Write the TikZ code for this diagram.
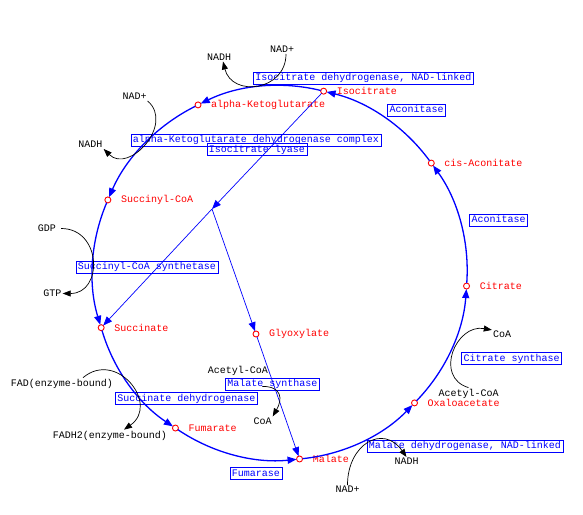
\documentclass[tikz,border=0pt]{standalone}
\usepackage{fontspec}
\setmonofont{Liberation Mono}
\usepackage{tikz}
\usetikzlibrary{arrows.meta,calc,positioning}

\begin{document}
\begin{tikzpicture}[x=1pt, y=1pt, font=\ttfamily\fontsize{10}{12}\selectfont]
    \def\R{187} % Radius of the cycle
    \useasboundingbox (0,0) rectangle (583,-514);

    % Style for nodes and lines
    \tikzset{
        metnode/.style={circle, draw=red, line width=0.9pt, minimum size=6pt, inner sep=0pt, outer sep=0pt},
        metname/.style={text=red, inner sep=0pt},
        enzbox/.style={draw=blue, text=blue, line width=0.8pt, inner xsep=2pt, inner ysep=1.5pt, text height=7pt, text depth=2pt},
        cofname/.style={text=black, inner sep=1pt},
        cycleline/.style={blue, line width=1.3pt, -{Triangle[length=9pt, width=7pt]}},
        shuntline/.style={blue, line width=0.7pt, -{Triangle[length=9pt, width=7pt]}},
        cofline/.style={black, line width=0.7pt, -{Triangle[length=8pt, width=6pt]}}
    }

    \coordinate (C) at (280,-273);

    % --- METABOLITES ---
    % one every 40 degrees round the cycle
    \foreach \n/\a/\lbl in {cit/-4/Citrate, cis/36/cis-Aconitate, iso/76.5/Isocitrate,
                            akg/116/alpha-Ketoglutarate, scoa/157/Succinyl-CoA, suc/197/Succinate,
                            fum/236/Fumarate, mal/276/Malate, oaa/316/Oxaloacetate} {
        \node[metnode] (\n) at ($(C)+(\a:\R)$) {};
        \node[metname, right=10pt of \n] (l\n) {\lbl};
    }
    \node[metnode] (gly) at (256,-334) {};
    \node[metname, right=10pt of gly] (lgly) {Glyoxylate};
    \coordinate (br) at (212,-209);

    % --- CYCLE ---
    \foreach \s/\e in {oaa/cit, cit/cis, cis/iso, iso/akg, akg/scoa, scoa/suc, suc/fum, fum/mal, mal/oaa}
        \draw[cycleline] (\s) to[bend right=20, looseness=0.88] (\e);

    % --- GLYOXYLATE SHUNT ---
    \draw[shuntline] (iso) -- (br);
    \draw[shuntline] (br) -- (suc);
    \draw[shuntline] (br) -- (gly);
    \draw[shuntline] (gly) -- (mal);

    % --- ENZYMES ---
    \node[enzbox] (icdh) at (363.5,-78) {Isocitrate dehydrogenase, NAD-linked};
    \node[enzbox] (acoA) at (416.5,-110) {Aconitase};
    \node[enzbox] (akgdh) at (256,-140) {alpha-Ketoglutarate dehydrogenase complex};
    \node[enzbox] (icl) at (257,-149.5) {Isocitrate lyase};
    \node[enzbox] (acoB) at (498.5,-220) {Aconitase};
    \node[enzbox] (scs) at (147,-267) {Succinyl-CoA synthetase};
    \node[enzbox] (cs) at (511.5,-358.5) {Citrate synthase};
    \node[enzbox] (ms) at (272.5,-384) {Malate synthase};
    \node[enzbox] (sdh) at (186.5,-398.5) {Succinate dehydrogenase};
    \node[enzbox] (fumase) at (256,-473.5) {Fumarase};
    \node[enzbox] (mdh) at (465,-446) {Malate dehydrogenase, NAD-linked};

    % --- COFACTORS ---
    \node[cofname] (nadI) at (282,-49.5) {NAD+};
    \node[cofname] (nadhI) at (219,-57) {NADH};
    \draw[cofline] ([xshift=4pt]nadI.south) to[out=-90, in=-76, looseness=1.5] ([xshift=4pt]nadhI.south);

    \node[cofname] (nadK) at (134.5,-96.5) {NAD+};
    \node[cofname] (nadhK) at (90.5,-144.5) {NADH};
    \draw[cofline] (nadK.south east) to[out=-41, in=-45, looseness=1.4] (nadhK.south east);

    \node[cofname] (gdp) at (47,-228.5) {GDP};
    \node[cofname] (gtp) at (52.5,-293.5) {GTP};
    \draw[cofline] ([xshift=4pt]gdp.east) to[out=0, in=0, looseness=1.6] (gtp.east);

    \node[cofname] (fad) at (62,-383.5) {FAD(enzyme-bound)};
    \node[cofname] (fadh) at (110,-435.5) {FADH2(enzyme-bound)};
    \draw[cofline] ([xshift=21pt]fad.north) to[out=40, in=35, looseness=1.7] ([xshift=14pt]fadh.north);

    \node[cofname] (acoaM) at (238,-370.5) {Acetyl-CoA};
    \node[cofname] (coaM) at (262.5,-421) {CoA};
    \draw[cofline] ([shift={(-7pt,-10pt)}]acoaM.south east) to[out=0, in=60, looseness=1.6] (coaM.north east);

    \node[cofname] (acoaC) at (468.5,-393.5) {Acetyl-CoA};
    \node[cofname] (coaC) at (502,-334.5) {CoA};
    \draw[cofline] (acoaC.north) to[out=163, in=170, looseness=1.5] (coaC.north west);

    \node[cofname] (nadM) at (347.5,-489.5) {NAD+};
    \node[cofname] (nadhM) at (406.5,-461.5) {NADH};
    \draw[cofline] (nadM.north) to[out=90, in=125, looseness=1.6] (nadhM.north);

\end{tikzpicture}
\end{document}
